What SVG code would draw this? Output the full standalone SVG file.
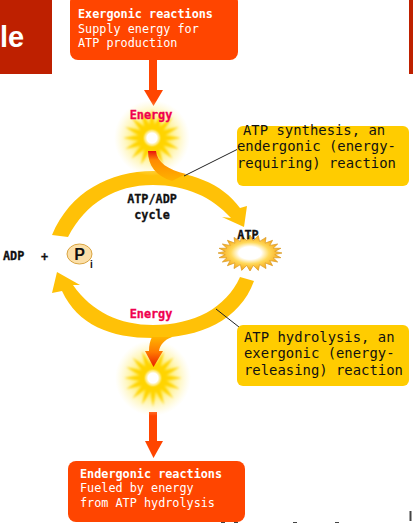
<svg xmlns="http://www.w3.org/2000/svg" width="413" height="529" viewBox="0 0 413 529">
<style>
.m{font-family:"DejaVu Sans Mono","Liberation Mono",monospace}
.b{font-weight:700;font-size:11.8px}
.w{fill:#fff;font-size:11.8px}
.k{fill:#111;font-size:13.9px}
.e{fill:#f0004f;stroke:#f0004f;stroke-width:.3;text-anchor:middle}
.d{fill:#111;stroke:#111;stroke-width:.3}
.o{fill:#ff4500}
.y{fill:#ffcc00}
.g{fill:#ffc107}
.l{stroke:#222;stroke-width:1;fill:none}
</style>
<defs>
<radialGradient id="glow"><stop offset="0" stop-color="#ffe000"/><stop offset=".5" stop-color="#ffe94d" stop-opacity=".7"/><stop offset=".8" stop-color="#fff2a0" stop-opacity=".4"/><stop offset="1" stop-color="#fff6c0" stop-opacity="0"/></radialGradient>
<radialGradient id="core"><stop offset="0" stop-color="#fff"/><stop offset=".5" stop-color="#fff"/><stop offset=".75" stop-color="#fff0a0" stop-opacity=".7"/><stop offset="1" stop-color="#ffd800" stop-opacity="0"/></radialGradient>
<radialGradient id="atp"><stop offset="0" stop-color="#fff"/><stop offset=".35" stop-color="#fff"/><stop offset=".6" stop-color="#ffd95a"/><stop offset=".85" stop-color="#f9b52c"/><stop offset="1" stop-color="#f0981a"/></radialGradient>
<linearGradient id="t1" x1="0" y1="0" x2="0" y2="1"><stop offset="0" stop-color="#e81010"/><stop offset=".3" stop-color="#ff8a00"/><stop offset="1" stop-color="#ffb300"/></linearGradient>
<linearGradient id="t2" x1="0" y1="0" x2="0" y2="1"><stop offset="0" stop-color="#ffb300"/><stop offset=".5" stop-color="#ff7a00"/><stop offset="1" stop-color="#e81c00"/></linearGradient>
<filter id="soft" x="-30%" y="-30%" width="160%" height="160%"><feGaussianBlur stdDeviation=".8"/></filter>
<path id="ray" d="M0-29L3.500-9L0 0L-3.500-9Z" fill="#ffd400"/>
<g id="burst">
<circle r="38" fill="url(#glow)"/>
<g filter="url(#soft)">
<use href="#ray"/><use href="#ray" transform="rotate(22.5)"/><use href="#ray" transform="rotate(45)"/><use href="#ray" transform="rotate(67.5)"/><use href="#ray" transform="rotate(90)"/><use href="#ray" transform="rotate(112.5)"/><use href="#ray" transform="rotate(135)"/><use href="#ray" transform="rotate(157.5)"/><use href="#ray" transform="rotate(180)"/><use href="#ray" transform="rotate(202.5)"/><use href="#ray" transform="rotate(225)"/><use href="#ray" transform="rotate(247.5)"/><use href="#ray" transform="rotate(270)"/><use href="#ray" transform="rotate(292.5)"/><use href="#ray" transform="rotate(315)"/><use href="#ray" transform="rotate(337.5)"/>
<circle r="13" fill="#ffd400"/>
</g>
<circle r="10" fill="url(#core)"/>
</g>
</defs>
<rect width="413" height="529" fill="#fff"/>
<g id="title-left"><rect x="0" y="0" width="52" height="74" fill="#be2000"/><text x="0" y="47" font-family="Liberation Sans,sans-serif" font-weight="700" font-size="29" fill="#fff">le</text></g>
<g id="title-right"><rect x="409" y="0" width="4" height="74" fill="#be2000"/></g>
<g id="connectors">
<path class="o" d="M149 60H157V90H163L153.500 106L144 90H149Z"/>
<path class="o" d="M149 412H157V441H163L153.500 458L145 441H149Z"/>
<path class="g" d="M52 235C70 192 110 171 153 171C190 171 222 183 240 208L247 206L244 227L222 217L231 218C212 197 186 185 153 185C115 185 86 203 68 237Z"/>
<path class="g" d="M254 281C240 320 200 338 153 338C110 338 78 325 62 291L52 293L57 272L80 285L73 285C92 312 120 325 153 325C194 325 226 308 240 277Z"/>
<path class="l" d="M184 176L238 149"/>
<path class="l" d="M216 309L239 327"/>
</g>
<g id="burst-top"><use href="#burst" transform="translate(152 138)"/><path d="M148 151H156C157 162 168 170 186 174L172 181C156 176 148 166 148 151Z" fill="url(#t1)"/></g>
<g id="burst-bottom"><use href="#burst" transform="translate(153 378)"/><path d="M152 337H172C164 340 160 345 159 351H163L153.500 367L145 351H149C149 345 150 341 152 337Z" fill="url(#t2)"/></g>
<g id="atp-star"><polygon transform="translate(250 253)" points="32,0 24.800,-1.600 30.900,-4.700 23.100,-4.800 27.700,-9 19.800,-7.600 22.600,-12.700 15.200,-9.900 16,-15.600 9.600,-11.600 8.300,-17.400 3.300,-12.400 0,-18 -3.300,-12.400 -8.300,-17.400 -9.600,-11.600 -16,-15.600 -15.200,-9.900 -22.600,-12.700 -19.800,-7.600 -27.700,-9 -23.100,-4.800 -30.900,-4.700 -24.800,-1.600 -32,0 -24.800,1.600 -30.900,4.700 -23.100,4.800 -27.700,9 -19.800,7.600 -22.600,12.700 -15.200,9.900 -16,15.600 -9.600,11.600 -8.300,17.400 -3.300,12.400 0,18 3.300,12.400 8.300,17.400 9.600,11.600 16,15.600 15.200,9.900 22.600,12.700 19.800,7.600 27.700,9 23.100,4.800 30.900,4.700 24.800,1.600" fill="url(#atp)" stroke="#d99a20" stroke-width=".7"/><text class="m b d" x="248" y="239" text-anchor="middle">ATP</text></g>
<g id="box-exergonic"><rect class="o" x="70" y="-6" width="168" height="66" rx="8"/><text class="m b" style="fill:#fff" x="78" y="18">Exergonic reactions</text><text class="m w" x="78" y="33">Supply energy for</text><text class="m w" x="78" y="47">ATP production</text></g>
<g id="box-endergonic"><rect class="o" x="68" y="461" width="177" height="61" rx="8"/><text class="m b" style="fill:#fff" x="80" y="478">Endergonic reactions</text><text class="m w" x="80" y="492">Fueled by energy</text><text class="m w" x="80" y="507">from ATP hydrolysis</text></g>
<g id="box-synthesis"><rect class="y" x="237" y="126" width="172" height="60" rx="6"/><text class="m k" x="243" y="135">ATP synthesis, an</text><text class="m k" x="237" y="151">endergonic (energy-</text><text class="m k" x="237" y="168">requiring) reaction</text></g>
<g id="box-hydrolysis"><rect class="y" x="237" y="325" width="172" height="61" rx="6"/><text class="m k" x="244" y="342">ATP hydrolysis, an</text><text class="m k" x="244" y="358">exergonic (energy-</text><text class="m k" x="244" y="375">releasing) reaction</text></g>
<g id="labels"><text class="m b e" x="151" y="119">Energy</text><text class="m b e" x="151" y="318">Energy</text><text class="m b d" x="152" y="203" text-anchor="middle">ATP/ADP</text><text class="m b d" x="152" y="219" text-anchor="middle">cycle</text></g>
<g id="adp-pi"><text class="m b d" x="3" y="260">ADP</text><text class="m b d" x="44.500" y="261" text-anchor="middle">+</text><ellipse cx="79.500" cy="254" rx="12.500" ry="10" fill="#fbdfa8" stroke="#d9a441"/><text x="79.500" y="260" text-anchor="middle" font-family="Liberation Sans,sans-serif" font-weight="700" font-size="16" fill="#111">P</text><text x="90" y="268" font-family="Liberation Sans,sans-serif" font-weight="700" font-size="10" fill="#111">i</text></g>
<g id="fragments" stroke="#444" stroke-width="1"><path d="M221 522.500H225M234 522.500H238M293 522.500H297M335 522.500H339"/><path d="M410.500 511V521" stroke-width="2"/></g>
</svg>
